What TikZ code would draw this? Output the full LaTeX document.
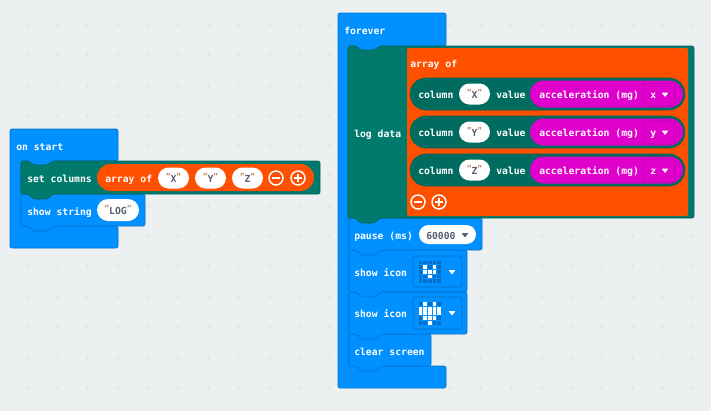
\documentclass[tikz,border=0pt]{standalone}
\usepackage{fontspec}
\usepackage{xcolor}
\setmainfont{DejaVu Sans Mono}[BoldFont={DejaVu Sans Mono Bold}]
\usetikzlibrary{shapes.misc,positioning}
\definecolor{boardcolor}{RGB}{236,240,241}
\definecolor{pluscolor}{RGB}{225,231,232}
\definecolor{basiccolor}{RGB}{0,144,255}
\definecolor{basicedge}{RGB}{0,115,204}
\definecolor{logcolor}{RGB}{0,122,108}
\definecolor{logedge}{RGB}{0,98,86}
\definecolor{rowcolor}{RGB}{0,108,96}
\definecolor{arraycolor}{RGB}{255,80,0}
\definecolor{inputcolor}{RGB}{224,0,204}
\definecolor{inputedge}{RGB}{190,0,175}
\definecolor{quotecolor}{RGB}{190,130,90}
\definecolor{strcolor}{RGB}{87,94,117}
\definecolor{ledcolor}{RGB}{0,112,200}
\def\px{0.75pt}
\newcommand{\stackblock}[4]{%
  (#1,#2) -- ++(8,0) -- ++(4,4) -- ++(15,0) -- ++(4,-4) -- (#3,#2) -- (#3,#4)
  -- ({#1+31},#4) -- ++(-4,5) -- ++(-15,0) -- ++(-4,-5) -- (#1,#4) -- cycle}
\newcommand{\hatblock}[6]{%
  (#1,#2) -- (#3,#2) -- (#3,#4) -- ({#1+42},#4) -- ++(-4,5) -- ++(-15,0) -- ++(-4,-5)
  -- ({#1+11},#4) -- ({#1+11},#5) -- (#3,#5) -- (#3,#6) -- (#1,#6) -- cycle}
\newcommand{\qstr}[1]{{\fontsize{6}{6}\selectfont\color{quotecolor}\raisebox{1.8pt}{"}}{\color{strcolor}#1}{\fontsize{6}{6}\selectfont\color{quotecolor}\raisebox{1.8pt}{"}}}
\newcommand{\ddarrow}[3]{\fill[#3, rounded corners=0.4pt] ({#1-3.5},{#2-2}) -- ({#1+3.5},{#2-2}) -- (#1,{#2+2.5}) -- cycle;}
\newcommand{\ledgrid}[2]{%
  \foreach \cx in {0,...,4} \foreach \cy in {0,...,4}
    \fill[ledcolor] ({418.5+4.7*\cx},{#1+4.7*\cy}) rectangle ++(3.8,3.8);
  \foreach \cx/\cy in {#2}
    \fill[white] ({418.5+4.7*\cx},{#1+4.7*\cy}) rectangle ++(3.8,3.8);}
\tikzset{
  label/.style={anchor=west, inner sep=0pt, text=white, text height=7pt, text depth=0.6pt,
    font=\fontsize{7.3}{8}\selectfont\bfseries},
  strval/.style={rounded rectangle, fill=white, inner sep=0pt, minimum width=31*\px, minimum height=21*\px,
    text height=7pt, text depth=0.6pt, font=\fontsize{7.3}{8}\selectfont\bfseries},
  pill/.style={rounded rectangle, inner sep=0pt},
  roundbtn/.style={circle, draw=white, line width=1.1pt, inner sep=0pt, minimum size=14*\px},
  btnbar/.style={white, line width=1.5pt},
  block/.style={line width=0.5pt, rounded corners=1.5pt},
  basicblock/.style={block, fill=basiccolor, draw=basicedge},
  logblock/.style={block, fill=logcolor, draw=logedge},
  iconbox/.style={fill=basiccolor, draw=basicedge, line width=0.6pt, rounded corners=2pt},
  ddbox/.style={fill=inputcolor, draw=inputedge, line width=0.6pt, rounded corners=2pt}
}
\begin{document}
\begin{tikzpicture}[x=\px, y=-\px]
\fill[boardcolor] (0,0) rectangle (711,411);
\useasboundingbox (0,0) rectangle (711,411);

% Board marks
\foreach \i in {0,...,22} \foreach \j in {0,...,12} {
  \draw[pluscolor, line width=0.5pt] ({27+30.25*\i-2.5},{24.5+30.25*\j}) -- ++(5,0);
  \draw[pluscolor, line width=0.5pt] ({27+30.25*\i},{24.5+30.25*\j-2.5}) -- ++(0,5);
}

% on start stack
\path[basicblock] \hatblock{10}{129}{118}{161}{226}{248};
\node[label] (onstart) at (16,146) {on start};
\path[basicblock] \stackblock{21}{194}{145}{226};
\node[label] (showstring) at (27,211) {show string};
\node[strval, minimum width=42*\px, minimum height=22*\px] (logstr) at (118,210) {\qstr{LOG}};
\path[logblock] \stackblock{21}{161}{320}{194};
\node[label] (setcolumns) at (27,178) {set columns};
\node[pill, fill=arraycolor, minimum width=217*\px, minimum height=27*\px] (colarray) at (205.5,177.5) {};
\node[label] (colarraytxt) at (105,178) {array of};
\node[strval] (colx) at (173.5,178) {\qstr{X}};
\node[strval] (coly) at (210.5,178) {\qstr{Y}};
\node[strval] (colz) at (247.5,178) {\qstr{Z}};
\node[roundbtn] (colminus) at (276,178) {};
\node[roundbtn] (colplus) at (298,178) {};
\draw[btnbar] (272,178) -- (280,178);
\draw[btnbar] (294,178) -- (302,178);
\draw[btnbar] (298,174) -- (298,182);

% forever stack
\path[basicblock] \hatblock{338}{13}{446}{46}{366}{388};
\node[label] (forever) at (344,30) {forever};
\path[basicblock] \stackblock{349}{334}{431}{366};
\node[label] (clearscreen) at (354,351) {clear screen};
\path[basicblock] \stackblock{349}{292}{467}{334};
\node[label] (showicontwo) at (354,313) {show icon};
\path[iconbox] (413,297) rectangle (462,329);
\ledgrid{302}{1/0,3/0,0/1,1/1,2/1,3/1,4/1,0/2,1/2,2/2,3/2,4/2,1/3,2/3,3/3,2/4}
\ddarrow{452}{313}{white}
\path[basicblock] \stackblock{349}{250}{467}{292};
\node[label] (showiconone) at (354,272) {show icon};
\path[iconbox] (413,256) rectangle (462,287);
\ledgrid{260.5}{1/1,3/1,1/2,2/2,3/2,2/3}
\ddarrow{452}{272}{white}
\path[basicblock] \stackblock{349}{218}{482}{250};
\node[label] (pause) at (354,235) {pause (ms)};
\node[pill, fill=white, minimum width=57*\px, minimum height=19*\px] (pauseval) at (447.5,234.5) {};
\node[label, text=strcolor] (pausetxt) at (426,235) {60000};
\ddarrow{465}{235}{strcolor}

% log data block
\path[logblock] \stackblock{348}{46}{694}{218};
\node[label] (logdata) at (354,133) {log data};
\path[fill=arraycolor, rounded corners=1.5pt] (407,48) rectangle (688,216);
\node[label] (logarraytxt) at (410,63) {array of};

\node[pill, fill=rowcolor, draw=logedge, minimum width=275*\px, minimum height=32*\px] (rowx) at (547.5,94) {};
\node[pill, fill=rowcolor, draw=logedge, minimum width=275*\px, minimum height=32*\px] (rowy) at (547.5,132) {};
\node[pill, fill=rowcolor, draw=logedge, minimum width=275*\px, minimum height=32*\px] (rowz) at (547.5,170) {};

\node[label] (colnamex) at (418,94) {column};
\node[label] (colnamey) at (418,132) {column};
\node[label] (colnamez) at (418,170) {column};
\node[strval] (strx) at (474.5,94) {\qstr{X}};
\node[strval] (stry) at (474.5,132) {\qstr{Y}};
\node[strval] (strz) at (474.5,170) {\qstr{Z}};
\node[label] (valuex) at (496,94) {value};
\node[label] (valuey) at (496,132) {value};
\node[label] (valuez) at (496,170) {value};

\node[pill, fill=inputcolor, minimum width=153*\px, minimum height=27*\px] (accx) at (606.5,94) {};
\node[pill, fill=inputcolor, minimum width=153*\px, minimum height=27*\px] (accy) at (606.5,132) {};
\node[pill, fill=inputcolor, minimum width=153*\px, minimum height=27*\px] (accz) at (606.5,170) {};
\node[label] (acctxtx) at (539,94) {acceleration (mg)};
\node[label] (acctxty) at (539,132) {acceleration (mg)};
\node[label] (acctxtz) at (539,170) {acceleration (mg)};
\path[ddbox] (644,83) rectangle (675,106);
\path[ddbox] (644,121) rectangle (675,144);
\path[ddbox] (644,159) rectangle (675,182);
\node[label] (axisx) at (650,94) {x};
\node[label] (axisy) at (650,132) {y};
\node[label] (axisz) at (650,170) {z};
\ddarrow{665}{94.5}{white}
\ddarrow{665}{132.5}{white}
\ddarrow{665}{170.5}{white}

\node[roundbtn] (logminus) at (418,202) {};
\node[roundbtn] (logplus) at (439,202) {};
\draw[btnbar] (414,202) -- (422,202);
\draw[btnbar] (435,202) -- (443,202);
\draw[btnbar] (439,198) -- (439,206);

\end{tikzpicture}
\end{document}
